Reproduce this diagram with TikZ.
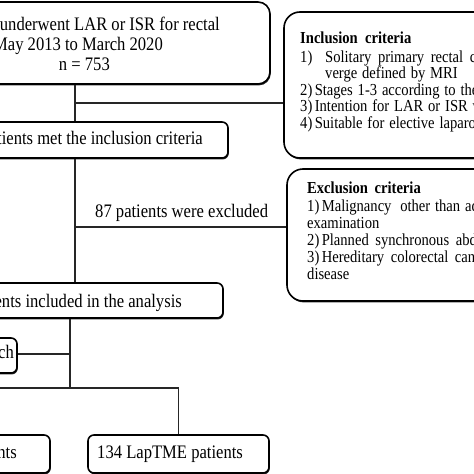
\documentclass[tikz,border=0pt]{standalone}
\usepackage{fontspec}
\setmainfont{Liberation Serif}
\usetikzlibrary{shadows}
\newcommand{\vst}[1]{\scalebox{1}[1.15]{#1}}
\newcommand{\critfont}{\fontsize{14.6}{17}\selectfont\spaceskip=0.33em plus 0.1em minus 0.05em\relax}
\begin{document}
\begin{tikzpicture}[x=1pt,y=-1pt,
  box/.style={draw=black, line width=1.6pt, fill=white, rectangle, inner sep=0pt,
    drop shadow={shadow xshift=0.8pt, shadow yshift=-1.4pt, fill=black, opacity=0.85}},
  big/.style={font=\fontsize{16.6}{20}\selectfont, inner sep=0pt},
  crit/.style={font=\critfont, anchor=base west, inner sep=0pt},
  conn/.style={line width=1.3pt, draw=black!85}]
\useasboundingbox (0,0) rectangle (474,474);
\clip (0,0) rectangle (474,474);
\fill[white] (0,0) rectangle (474,474);

% boxes
\node[box, rounded corners=12pt, minimum width=390pt, minimum height=82pt] (top) at (75,43) {};
\node[box, rounded corners=16pt, minimum width=316pt, minimum height=146pt] (inc) at (442,85) {};
\node[box, rounded corners=6pt, minimum width=378pt, minimum height=36pt] (met) at (39,140) {};
\node[box, rounded corners=16pt, minimum width=313pt, minimum height=132pt] (exc) at (443.5,235) {};
\node[box, rounded corners=6pt, minimum width=373pt, minimum height=35pt] (ana) at (36.5,300.5) {};
\node[box, rounded corners=6pt, minimum width=77pt, minimum height=35pt] (ch) at (-21.5,355.5) {};
\node[box, rounded corners=6pt, minimum width=200pt, minimum height=38pt] (nts) at (-50,454) {};
\node[box, rounded corners=6pt, minimum width=181pt, minimum height=38pt] (lap) at (178.5,454) {};

% texts of main boxes
\node[big, anchor=base east] (t1) at (220,30.5) {\vst{underwent LAR or ISR for rectal}};
\node[big, anchor=base east] (t2) at (163,50) {\vst{May 2013 to March 2020}};
\node[big, anchor=base east] (t3) at (110,70) {\vst{n = 753}};
\node[big, anchor=base east] (tmet) at (203,144) {\vst{tients met the inclusion criteria}};
\node[big, anchor=base east] (tana) at (182,307) {\vst{ents included in the analysis}};
\node[big, anchor=base east] (tch) at (14,358) {\vst{ch}};
\node[big, anchor=base east] (tnts) at (17,458) {\vst{nts}};
\node[big, anchor=base west] (tlap) at (97,458) {\vst{134 LapTME patients}};
\node[big, anchor=base west] (texcl) at (95,217) {\vst{87 patients were excluded}};

% inclusion criteria
\node[crit] (i0) at (300,43) {\vst{\bfseries Inclusion\hspace{0.5em}criteria}};
\node[crit] (i1a) at (300,62) {\vst{1)}};
\node[crit] (i1b) at (325,62) {\vst{Solitary\hspace{0.45em}primary\hspace{0.45em}rectal\hspace{0.45em}ca}};
\node[crit] (i1c) at (325,78.5) {\vst{verge defined by MRI}};
\node[crit] (i2) at (300,95) {\vst{2)\,Stages 1-3 according to the}};
\node[crit] (i3) at (300,111.5) {\vst{3)\,Intention for LAR or ISR w}};
\node[crit] (i4) at (300,128) {\vst{4)\,Suitable for elective laparo}};

% exclusion criteria
\node[crit] (e0) at (307,193) {\vst{\bfseries Exclusion\hspace{0.45em}criteria}};
\node[crit] (e1) at (307,211) {\vst{1)\,Malignancy\hspace{0.6em}other than ad}};
\node[crit] (e1b) at (307,228) {\vst{examination}};
\node[crit] (e2) at (307,245) {\vst{2)\,Planned\hspace{0.45em}synchronous\hspace{0.45em}abd}};
\node[crit] (e3) at (307,262) {\vst{3)\,Hereditary\hspace{0.45em}colorectal\hspace{0.45em}can}};
\node[crit] (e4) at (307,279) {\vst{disease}};

% connectors
\coordinate (j1) at (75,103);
\coordinate (j2) at (75,227);
\coordinate (j3) at (70,354);
\coordinate (j4) at (70,388);
\draw[conn] (j1 |- top.south) -- (j1 |- met.north);
\draw[conn] (j1) -- (j1 -| inc.west);
\draw[conn] (j1 |- met.south) -- (j1 |- ana.north);
\draw[conn] (j2) -- (j2 -| exc.west);
\draw[conn] (j3 |- ana.south) -- (j4);
\draw[conn] (j3) -- (j3 -| ch.east);
\draw[conn] (nts.north) |- (j4) -| (lap.north);
\end{tikzpicture}
\end{document}
